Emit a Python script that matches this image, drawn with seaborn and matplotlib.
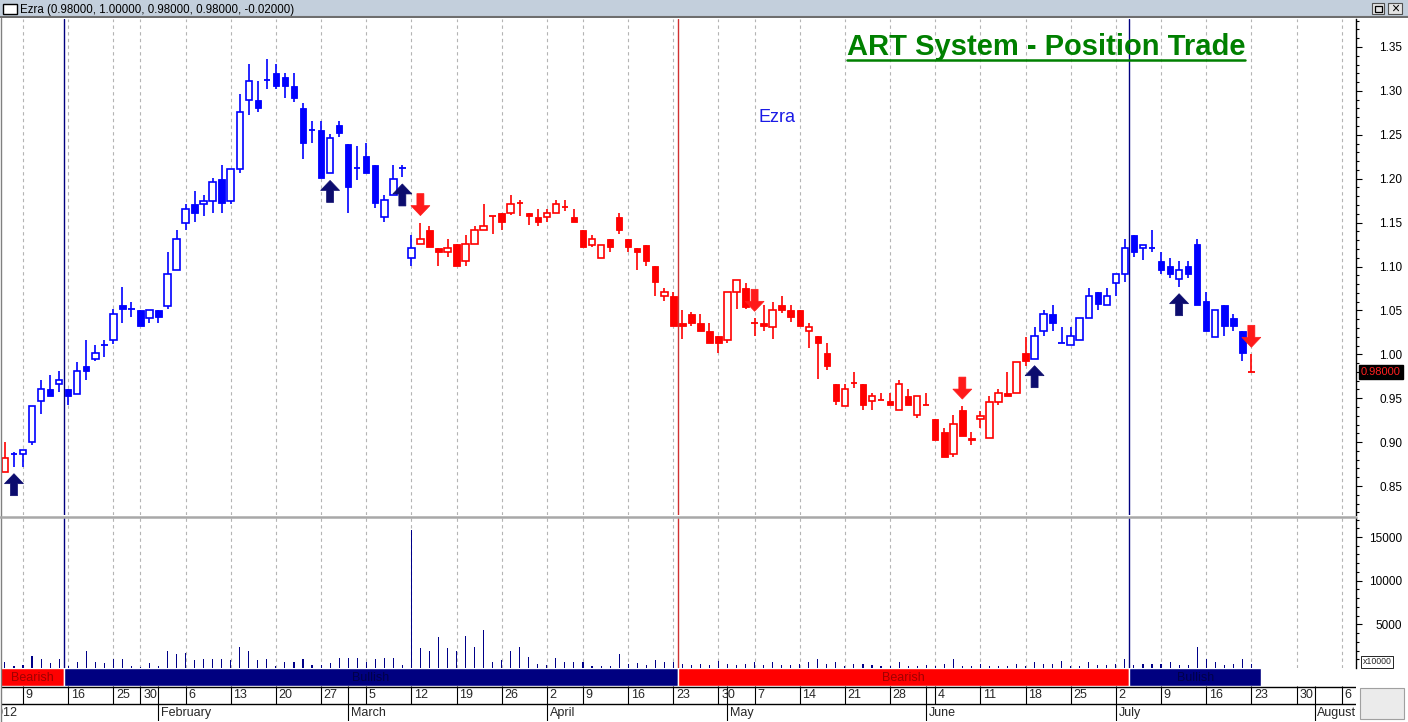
import numpy as np
import pandas as pd
import seaborn as sns
import matplotlib.pyplot as plt
from matplotlib.patches import Polygon, Rectangle
from matplotlib.lines import Line2D
import matplotlib.transforms as mtransforms

# bar 0 = Mon 9 Jan 2012, one step per SGX trading day
first_bar = -2
opens = [0.866, 0.887, 0.886, 0.900, 0.947, 0.961, 0.966, 0.961, 0.955, 0.987,
         0.995, 1.011, 1.016, 1.056, 1.052, 1.051, 1.041, 1.051, 1.055, 1.096,
         1.150, 1.171, 1.171, 1.175, 1.200, 1.175, 1.211, 1.290, 1.290, 1.312,
         1.320, 1.316, 1.306, 1.280, 1.256, 1.256, 1.206, 1.261, 1.240, 1.212,
         1.226, 1.216, 1.156, 1.181, 1.212, 1.110, 1.126, 1.142, 1.121, 1.116,
         1.126, 1.106, 1.126, 1.142, 1.157, 1.161, 1.161, 1.172, 1.161, 1.156,
         1.156, 1.161, 1.168, 1.156, 1.142, 1.125, 1.110, 1.131, 1.156, 1.131,
         1.121, 1.125, 1.101, 1.066, 1.066, 1.036, 1.046, 1.036, 1.027, 1.021,
         1.016, 1.071, 1.076, 1.036, 1.036, 1.031, 1.056, 1.051, 1.051, 1.027,
         1.021, 1.001, 0.966, 0.941, 0.967, 0.966, 0.947, 0.948, 0.947, 0.937,
         0.952, 0.931, 0.942, 0.926, 0.912, 0.886, 0.937, 0.905, 0.926, 0.905,
         0.946, 0.956, 0.956, 1.001, 0.995, 1.026, 1.046, 1.013, 1.011, 1.016,
         1.041, 1.071, 1.056, 1.081, 1.091, 1.136, 1.121, 1.121, 1.106, 1.101,
         1.086, 1.101, 1.126, 1.061, 1.020, 1.056, 1.041, 1.027, 0.980]
highs = [0.900, 0.889, 0.891, 0.941, 0.971, 0.976, 0.981, 0.961, 0.991, 1.016,
         1.011, 1.016, 1.052, 1.077, 1.060, 1.051, 1.051, 1.051, 1.117, 1.142,
         1.171, 1.186, 1.181, 1.201, 1.216, 1.211, 1.297, 1.331, 1.311, 1.336,
         1.331, 1.320, 1.320, 1.286, 1.266, 1.266, 1.251, 1.266, 1.240, 1.237,
         1.241, 1.216, 1.181, 1.216, 1.216, 1.136, 1.150, 1.146, 1.121, 1.131,
         1.126, 1.136, 1.146, 1.171, 1.157, 1.161, 1.181, 1.176, 1.161, 1.166,
         1.166, 1.176, 1.176, 1.166, 1.142, 1.136, 1.125, 1.131, 1.161, 1.131,
         1.121, 1.125, 1.101, 1.076, 1.071, 1.051, 1.048, 1.046, 1.036, 1.021,
         1.071, 1.085, 1.081, 1.041, 1.056, 1.060, 1.066, 1.056, 1.051, 1.036,
         1.021, 1.013, 0.966, 0.966, 0.980, 0.966, 0.956, 0.956, 0.956, 0.971,
         0.961, 0.952, 0.956, 0.926, 0.916, 0.931, 0.941, 0.911, 0.935, 0.952,
         0.961, 0.980, 0.991, 1.020, 1.031, 1.051, 1.056, 1.031, 1.031, 1.041,
         1.076, 1.071, 1.076, 1.091, 1.131, 1.136, 1.125, 1.142, 1.116, 1.110,
         1.106, 1.106, 1.131, 1.071, 1.051, 1.056, 1.046, 1.027, 1.000]
lows = [0.866, 0.872, 0.872, 0.897, 0.932, 0.952, 0.957, 0.942, 0.955, 0.971,
        0.992, 0.997, 1.012, 1.036, 1.043, 1.032, 1.036, 1.036, 1.052, 1.096,
        1.142, 1.151, 1.157, 1.161, 1.161, 1.171, 1.207, 1.272, 1.276, 1.302,
        1.302, 1.292, 1.287, 1.222, 1.241, 1.201, 1.206, 1.247, 1.161, 1.199,
        1.207, 1.167, 1.151, 1.181, 1.202, 1.101, 1.126, 1.122, 1.101, 1.111,
        1.101, 1.101, 1.126, 1.142, 1.137, 1.142, 1.159, 1.157, 1.147, 1.146,
        1.151, 1.161, 1.163, 1.151, 1.122, 1.122, 1.110, 1.117, 1.137, 1.117,
        1.096, 1.101, 1.066, 1.061, 1.032, 1.017, 1.032, 1.027, 1.013, 1.002,
        1.013, 1.052, 1.052, 1.021, 1.027, 1.017, 1.047, 1.037, 1.032, 1.007,
        0.972, 0.982, 0.942, 0.941, 0.962, 0.937, 0.937, 0.948, 0.942, 0.937,
        0.942, 0.927, 0.942, 0.902, 0.883, 0.883, 0.907, 0.897, 0.916, 0.905,
        0.942, 0.952, 0.956, 0.987, 0.995, 1.021, 1.027, 1.013, 1.011, 1.016,
        1.041, 1.051, 1.056, 1.066, 1.082, 1.111, 1.107, 1.117, 1.092, 1.087,
        1.077, 1.087, 1.056, 1.027, 1.020, 1.021, 1.027, 0.992, 0.980]
closes = [0.882, 0.887, 0.891, 0.941, 0.961, 0.952, 0.971, 0.952, 0.981, 0.981,
          1.001, 1.011, 1.046, 1.052, 1.052, 1.032, 1.051, 1.042, 1.091, 1.131,
          1.166, 1.161, 1.175, 1.196, 1.172, 1.211, 1.276, 1.311, 1.281, 1.312,
          1.306, 1.306, 1.292, 1.241, 1.256, 1.201, 1.246, 1.252, 1.191, 1.212,
          1.207, 1.172, 1.176, 1.200, 1.212, 1.121, 1.131, 1.122, 1.117, 1.121,
          1.101, 1.126, 1.142, 1.146, 1.157, 1.151, 1.171, 1.172, 1.157, 1.151,
          1.161, 1.171, 1.168, 1.151, 1.122, 1.131, 1.125, 1.122, 1.142, 1.122,
          1.117, 1.106, 1.082, 1.071, 1.032, 1.032, 1.036, 1.027, 1.013, 1.013,
          1.071, 1.085, 1.054, 1.036, 1.032, 1.051, 1.051, 1.042, 1.032, 1.031,
          1.013, 0.987, 0.947, 0.961, 0.967, 0.942, 0.952, 0.948, 0.942, 0.966,
          0.942, 0.952, 0.942, 0.902, 0.883, 0.921, 0.907, 0.902, 0.930, 0.946,
          0.956, 0.952, 0.991, 0.992, 1.021, 1.046, 1.036, 1.013, 1.021, 1.041,
          1.066, 1.057, 1.066, 1.091, 1.121, 1.117, 1.125, 1.121, 1.096, 1.092,
          1.096, 1.092, 1.056, 1.027, 1.051, 1.032, 1.032, 1.002, 0.980]
volumes = [744, 260, 300, 1400, 1000, 560, 1000, 260, 744, 1970,
           744, 560, 1000, 1000, 260, 110, 560, 260, 1970, 1560,
           1670, 860, 1000, 1000, 1000, 860, 2420, 1970, 860, 1000,
           260, 744, 630, 1000, 370, 370, 560, 1190, 1190, 1120,
           630, 1000, 1120, 1120, 370, 15800, 2340, 1970, 3530, 2340,
           1970, 3680, 2420, 4310, 744, 860, 1970, 2420, 1300, 480,
           370, 1120, 630, 744, 630, 260, 260, 190, 1560, 480,
           560, 370, 860, 630, 630, 484, 372, 484, 372, 856,
           484, 372, 484, 632, 372, 632, 372, 372, 484, 744,
           1004, 484, 744, 260, 484, 484, 372, 260, 260, 632,
           260, 260, 372, 260, 484, 1004, 260, 260, 484, 260,
           260, 260, 484, 260, 744, 484, 484, 856, 260, 260,
           744, 372, 372, 484, 1004, 372, 484, 484, 484, 632,
           372, 372, 2418, 1004, 632, 372, 484, 1004, 484]

# candle colour runs (first bar of each run)
color_run_start = [-2, -1, 44, 112, 136]
color_run = ['#FF0000', '#0000FF', '#FF0000', '#0000FF', '#FF0000']
buy_signals = [-1, 34, 42, 112, 128]
sell_signals = [44, 81, 104, 136]

regime_edges = [-2.5, 4.5, 72.5, 122.5, 137.1]
regime_names = ['Bearish', 'Bullish', 'Bearish', 'Bullish']

week_bars = [0, 5, 10, 13, 18, 23, 28, 33, 38, 43, 48, 53, 58, 62, 67, 72,
             77, 81, 86, 91, 96, 101, 106, 111, 116, 121, 126, 131, 136, 141, 146]
week_labels = ['9', '16', '25', '30', '6', '13', '20', '27', '5', '12', '19', '26',
               '2', '9', '16', '23', '30', '7', '14', '21', '28', '4', '11', '18',
               '25', '2', '9', '16', '23', '30', '6']
month_bars = [-4, 15, 36, 58, 78, 100, 121, 143]
month_labels = ['2012', 'February', 'March', 'April', 'May', 'June', 'July', 'August']

price_ticks = [0.85, 0.90, 0.95, 1.00, 1.05, 1.10, 1.15, 1.20, 1.25, 1.30, 1.35]
volume_ticks = [5000, 10000, 15000]
last_price = 0.98

df = pd.DataFrame({'bar': np.arange(first_bar, first_bar + len(opens)),
                   'open': opens, 'high': highs, 'low': lows,
                   'close': closes, 'volume': volumes})
run_idx = np.searchsorted(color_run_start, df['bar'], side='right') - 1
df['color'] = [color_run[i] for i in run_idx]

sns.set_theme(style='white')
plt.rcParams['font.family'] = ['Liberation Sans', 'DejaVu Sans']

W, H = 1408, 722
PX_X = 9.032   # pixels per bar
PX_Y = 878.0   # pixels per price unit
fig = plt.figure(figsize=(W / 100, H / 100), dpi=100)
fig.patch.set_facecolor('white')


def px_axes(x0, y0, x1, y1):
    return fig.add_axes([x0 / W, 1 - y1 / H, (x1 - x0) / W, (y1 - y0) / H])


XLIM = ((1 - 23) / PX_X, (1356 - 23) / PX_X)
LABEL_PAD = (1402 - 1356 - 6) * 0.72

# ---------------- price panel ----------------
ax = px_axes(1, 19, 1356, 515)
ax.set_facecolor('white')
ax.set_xlim(XLIM)
ax.set_ylim(1.35 - 468 / PX_Y, 1.35 + 28 / PX_Y)
for w in week_bars:
    ax.axvline(w, color='#B4B4B4', lw=0.8, ls=(0, (3, 3)), zorder=0)

ax.vlines(df['bar'], df['low'], df['high'], colors=df['color'], lw=1.2, zorder=2)
up = df[df['close'] > df['open']]
down = df[df['close'] < df['open']]
flat = df[df['close'] == df['open']]
ax.bar(up['bar'], up['close'] - up['open'], bottom=up['open'], width=0.72,
       facecolor='white', edgecolor=up['color'], linewidth=1.2, zorder=3)
ax.bar(down['bar'], down['open'] - down['close'], bottom=down['close'], width=0.72,
       facecolor=down['color'], edgecolor=down['color'], linewidth=0.6, zorder=3)
ax.hlines(flat['close'], flat['bar'] - 0.36, flat['bar'] + 0.36,
          colors=flat['color'], lw=1.3, zorder=3)


def draw_arrow(x, tip, pointing_up, color):
    hw, sw, hh, tl = 9.5 / PX_X, 3.5 / PX_X, 10 / PX_Y, 22 / PX_Y
    s = -1 if pointing_up else 1
    pts = [(x, tip), (x + hw, tip + s * hh), (x + sw, tip + s * hh),
           (x + sw, tip + s * tl), (x - sw, tip + s * tl),
           (x - sw, tip + s * hh), (x - hw, tip + s * hh)]
    ax.add_patch(Polygon(pts, closed=True, facecolor=color, edgecolor=color,
                         lw=0.5, zorder=5))


gap = 7 / PX_Y
lows_by_bar = df.set_index('bar')['low']
highs_by_bar = df.set_index('bar')['high']
for b in buy_signals:
    draw_arrow(b, lows_by_bar[b] - gap, True, '#0C0C6E')
for b in sell_signals:
    draw_arrow(b, highs_by_bar[b] + gap, False, '#FF1A1A')

ax.set_xticks([])
ax.yaxis.tick_right()
ax.set_yticks(price_ticks, labels=[f'{t:.2f}' for t in price_ticks])
ax.set_yticks(np.arange(0.82, 1.385, 0.01), minor=True)
ax.tick_params(axis='y', which='both', right=True, left=False, labelleft=False,
               labelright=True, direction='out', colors='black', width=0.8)
ax.tick_params(axis='y', which='major', length=6 * 0.72, pad=LABEL_PAD, labelsize=8.5)
ax.tick_params(axis='y', which='minor', length=3 * 0.72)
for lbl in ax.get_yticklabels():
    lbl.set_horizontalalignment('right')
for side in ['left', 'top', 'bottom']:
    ax.spines[side].set_visible(False)
ax.spines['right'].set_color('black')
ax.spines['right'].set_linewidth(1.0)

blend = mtransforms.blended_transform_factory(fig.transFigure, ax.transData)
ax.text(1381 / W, last_price, f'{last_price:.5f}', transform=blend, ha='center',
        va='center', color='#FF2020', fontsize=8,
        bbox=dict(boxstyle='square,pad=0.18', facecolor='black', edgecolor='black'))

# ---------------- volume panel ----------------
vax = px_axes(1, 518, 1356, 668)
vax.set_facecolor('white')
for w in week_bars:
    vax.axvline(w, color='#B4B4B4', lw=0.8, ls=(0, (3, 3)), zorder=0)
sns.barplot(data=df, x='bar', y='volume', native_scale=True, width=0.12,
            color='#000088', saturation=1, errorbar=None, ax=vax,
            linewidth=0, antialiased=False, zorder=3)
vax.set(xlabel=None, ylabel=None)
vax.set_xlim(XLIM)
vax.set_ylim(0, 17180)
vax.set_xticks([])
vax.yaxis.tick_right()
vax.set_yticks(volume_ticks, labels=[str(v) for v in volume_ticks])
vax.set_yticks(np.arange(1000, 17001, 1000), minor=True)
vax.tick_params(axis='y', which='both', right=True, left=False, labelleft=False,
                labelright=True, direction='out', colors='black', width=0.8)
vax.tick_params(axis='y', which='major', length=6 * 0.72, pad=LABEL_PAD, labelsize=8.5)
vax.tick_params(axis='y', which='minor', length=3 * 0.72)
for lbl in vax.get_yticklabels():
    lbl.set_horizontalalignment('right')
for side in ['left', 'top', 'bottom']:
    vax.spines[side].set_visible(False)
vax.spines['right'].set_color('black')
vax.spines['right'].set_linewidth(1.0)

# regime change lines through both panels
for edge, name in zip(regime_edges[1:-1], regime_names[1:]):
    c = '#000080' if name == 'Bullish' else '#D03030'
    ax.axvline(edge, color=c, lw=1.0, zorder=1)
    vax.axvline(edge, color=c, lw=1.0, zorder=1)

# ---------------- regime bar ----------------
rax = px_axes(1, 668, 1356, 686)
rax.set_xlim(XLIM)
rax.set_ylim(0, 1)
rax.axis('off')
starts = np.array(regime_edges[:-1])
ends = np.array(regime_edges[1:])
fills = ['#FF0000' if n == 'Bearish' else '#000080' for n in regime_names]
rax.barh(0.5, ends - starts, left=starts, height=1, color=fills)
for s, e, n in zip(starts, ends, regime_names):
    mid = (max(s, XLIM[0]) + e) / 2
    rax.text(mid, 0.45, n, ha='center', va='center', fontsize=9,
             color='#A00000' if n == 'Bearish' else '#00004A')

# ---------------- date axis ----------------
dax = px_axes(1, 686, 1356, 721)
dax.set_xlim(XLIM)
dax.set_ylim(0, 2)
dax.axis('off')
dax.axhline(1.97, color='black', lw=1.0)
dax.axhline(1.0, color='black', lw=1.0)
day_seps = sorted(set(week_bars) | set(month_bars))
dax.vlines(day_seps, 1, 2, color='black', lw=0.8)
dax.vlines(month_bars, 0, 1, color='black', lw=0.8)
for b, t in zip(week_bars, week_labels):
    dax.text(b + 0.3, 1.47, t, ha='left', va='center', fontsize=9, clip_on=True)
for b, t in zip(month_bars, month_labels):
    dax.text(b + 0.3, 0.45, t, ha='left', va='center', fontsize=9, clip_on=True)

# ---------------- window chrome ----------------
tax = px_axes(0, 0, W, 18)
tax.set_facecolor('#C3CFDC')
tax.set_xlim(0, W)
tax.set_ylim(18, 0)
tax.set_xticks([])
tax.set_yticks([])
for sp in tax.spines.values():
    sp.set_visible(False)
tax.axhline(17.3, color='#6E6E6E', lw=1.5)
tax.add_patch(Rectangle((3, 4), 14, 10, facecolor='white', edgecolor='black', lw=1.0))
tax.text(20, 9.5, 'Ezra (0.98000, 1.00000, 0.98000, 0.98000, -0.02000)',
         va='center', ha='left', fontsize=8.3, color='black')
tax.add_patch(Rectangle((1372, 3), 12, 11, facecolor='#E4E4E4', edgecolor='#505050', lw=0.8))
tax.add_patch(Rectangle((1374.5, 5.5), 7, 6, facecolor='none', edgecolor='black', lw=0.9))
tax.add_patch(Rectangle((1388, 3), 14, 11, facecolor='#E4E4E4', edgecolor='#505050', lw=0.8))
tax.text(1395, 9, '×', ha='center', va='center', fontsize=10, color='black')

fig.add_artist(Line2D([0.5 / W, 0.5 / W], [0, 1 - 18 / H], transform=fig.transFigure,
                      color='#808080', lw=1.0))
fig.add_artist(Line2D([0, 1356 / W], [1 - 516.5 / H] * 2, transform=fig.transFigure,
                      color='#A8A8A8', lw=1.8))
fig.add_artist(Rectangle((1360 / W, 1 - 719 / H), 44 / W, 31 / H, transform=fig.transFigure,
                         facecolor='#EBEBEB', edgecolor='#A0A0A0', lw=0.8))
fig.text(1377 / W, 1 - 662 / H, 'x10000', ha='center', va='center', fontsize=6.3,
         bbox=dict(boxstyle='square,pad=0.2', facecolor='white', edgecolor='black', lw=0.6))

# chart captions
fig.text(777 / W, 1 - 118 / H, 'Ezra', ha='center', va='center', fontsize=13,
         color='#1A1AE6')
title = fig.text(1046 / W, 1 - 55 / H, 'ART System - Position Trade', ha='center',
                 va='baseline', fontsize=21, fontweight='bold', color='#008000')
fig.canvas.draw()
bb = title.get_window_extent()
fig.add_artist(Line2D([bb.x0 / W, bb.x1 / W], [1 - 59.5 / H] * 2,
                      transform=fig.transFigure, color='#008000', lw=1.8))

fig.savefig('out.png', dpi=100)
